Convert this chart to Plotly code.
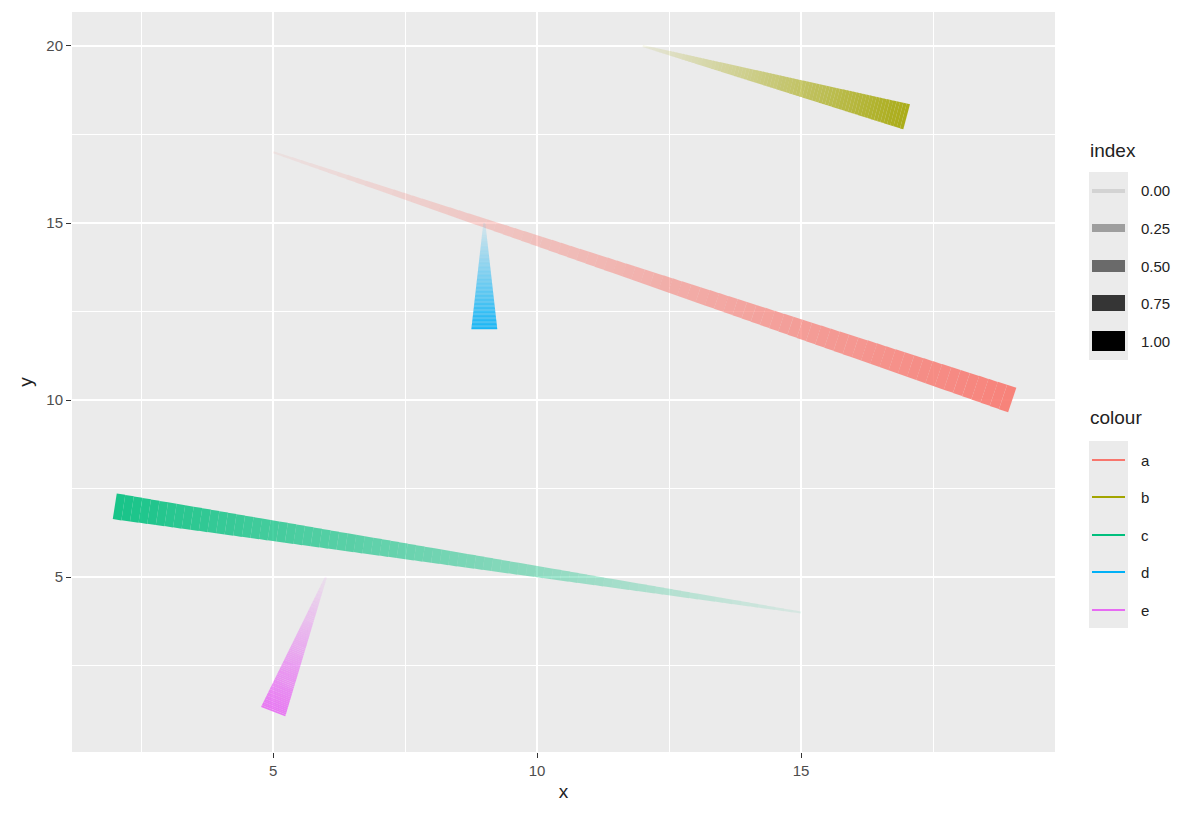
import plotly.graph_objects as go
import numpy as np

groups = ["a", "b", "c", "d", "e"]
x_start = [5, 12, 15, 9, 6]
y_start = [17, 20, 4, 15, 5]
x_end = [19, 17, 2, 9, 5]
y_end = [10, 18, 7, 12, 1.2]
colors = ["#F8766D", "#A3A500", "#00BF7D", "#00B0F6", "#E76BF3"]
index_breaks = [0.00, 0.25, 0.50, 0.75, 1.00]

def rgba(h, a):
    h = h.lstrip("#")
    return f"rgba({int(h[0:2],16)},{int(h[2:4],16)},{int(h[4:6],16)},{a:.3f})"

fig = go.Figure()
N = 80
for g, x0, y0, x1, y1, c in zip(groups, x_start, y_start, x_end, y_end, colors):
    t = np.linspace(0, 1, N + 1)
    xs = x0 + (x1 - x0) * t
    ys = y0 + (y1 - y0) * t
    for i in range(N):
        idx = (t[i] + t[i + 1]) / 2
        fig.add_trace(go.Scatter(x=[xs[i], xs[i + 1]], y=[ys[i], ys[i + 1]], mode="lines",
                                 line=dict(color=rgba(c, 0.08 + 0.82 * idx), width=2 + 24 * idx),
                                 showlegend=False, hoverinfo="skip"))

OFF = 8
L, R, T, B = 72 - OFF, 1055 - OFF, 12 - OFF, 752 - OFF
def px(x): return (x - OFF - L) / (R - L)
def py(y): return (B - (y - OFF)) / (B - T)

shapes = []
ann = []
def text(x, y, s, size, color="#222"):
    ann.append(dict(x=px(x), y=py(y), text=s, showarrow=False, xanchor="left", yanchor="middle",
                    font=dict(size=size, color=color), xref="paper", yref="paper"))

text(1088, 150, "index", 19)
rows = [191, 228, 266, 303, 341]
shapes.append(dict(type="rect", xref="paper", yref="paper", x0=px(1089), x1=px(1128),
                   y0=py(360), y1=py(172), fillcolor="#EBEBEB", line=dict(width=0)))
for r, v in zip(rows, index_breaks):
    shapes.append(dict(type="line", xref="paper", yref="paper", x0=px(1092), x1=px(1125),
                       y0=py(r), y1=py(r), line=dict(color=rgba("#000000", 0.1 + 0.9 * v), width=4 + 16 * v)))
    text(1139, r, f"{v:.2f}", 15)
text(1088, 418, "colour", 19)
rows2 = [460, 497, 535, 572, 610]
shapes.append(dict(type="rect", xref="paper", yref="paper", x0=px(1089), x1=px(1128),
                   y0=py(628), y1=py(441), fillcolor="#EBEBEB", line=dict(width=0)))
for r, g, c in zip(rows2, groups, colors):
    shapes.append(dict(type="line", xref="paper", yref="paper", x0=px(1092), x1=px(1125),
                       y0=py(r), y1=py(r), line=dict(color=c, width=2)))
    text(1139, r, g, 15)
ann.append(dict(x=px(1168), y=py(775), text="知乎 @名本无名", showarrow=False, xanchor="right", yanchor="middle",
                font=dict(size=26, color="rgba(255,255,255,0.95)", family="Noto Sans CJK SC"),
                xref="paper", yref="paper"))

axis_common = dict(showgrid=True, gridcolor="white", gridwidth=2, zeroline=False,
                   ticks="outside", ticklen=5, tickcolor="#333", tickfont=dict(size=15, color="#4D4D4D"),
                   minor=dict(showgrid=True, gridcolor="white", gridwidth=1, dtick=2.5, tick0=2.5, ticks=""),
                   title_font=dict(size=19, color="#222"))
fig.update_layout(
    width=1200, height=822, plot_bgcolor="#EBEBEB", paper_bgcolor="white",
    margin=dict(l=L, r=1200 - R, t=T, b=822 - B),
    xaxis=dict(range=[1.19, 19.81], tickvals=[5, 10, 15], title=dict(text="x", standoff=6), **axis_common),
    yaxis=dict(range=[0.06, 20.96], tickvals=[5, 10, 15, 20], title=dict(text="y", standoff=8), **axis_common),
    shapes=shapes, annotations=ann, font=dict(family="Liberation Sans"),
)
fig.write_html("out.html")
